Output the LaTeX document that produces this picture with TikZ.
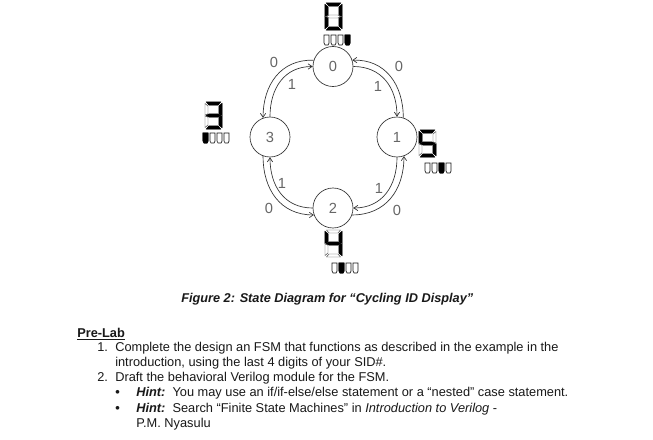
\documentclass[tikz,border=0pt]{standalone}
\usepackage{fontspec}
\setmainfont{Liberation Sans}
\usetikzlibrary{arrows.meta}
\tikzset{
  x=0.75pt,y=-0.75pt,
  state/.style={circle,draw=black!80,line width=0.5pt,minimum size=30pt,inner sep=0pt,font=\fontsize{11}{12}\selectfont,text=black!60},
  edgelab/.style={inner sep=0pt,font=\fontsize{11}{12}\selectfont,text=black!60},
  trans/.style={draw=black!80,line width=0.5pt,looseness=1.1,-{Straight Barb[length=3pt,width=4pt]}},
  txt/.style={inner sep=0pt,anchor=base west,font=\fontsize{9.6}{11}\selectfont,text=black!90},
  segA/.style={insert path={(1.5,0)--(15.5,0)--(13,3)--(4,3)--cycle}},
  segD/.style={insert path={(1.5,27)--(15.5,27)--(13,24)--(4,24)--cycle}},
  segF/.style={insert path={(0,1.5)--(3,4)--(3,11.8)--(0,13.2)--cycle}},
  segE/.style={insert path={(0,13.8)--(3,15.2)--(3,23)--(0,25.5)--cycle}},
  segB/.style={insert path={(17,1.5)--(14,4)--(14,11.8)--(17,13.2)--cycle}},
  segC/.style={insert path={(17,13.8)--(14,15.2)--(14,23)--(17,25.5)--cycle}},
  segG/.style={insert path={(1.5,13.5)--(4,12)--(13,12)--(15.5,13.5)--(13,15)--(4,15)--cycle}},
  ledbox/.style={insert path={(0,0)--(5,0)--(5,8)--(4,10)--(1,10)--(0,8)--cycle}},
}
% seven-segment display: x, y, list of lit segments
\newcommand\sevenseg[3]{%
  \begin{scope}[shift={(#1,#2)}]
    \foreach \s in {A,B,C,D,E,F,G} \draw[black!70,line width=0.35pt,seg\s];
    \foreach \s in {#3} \filldraw[black,line width=0.5pt,seg\s];
  \end{scope}}
% row of four LEDs: x, y, index of the lit one
\newcommand\ledrow[3]{%
  \begin{scope}[shift={(#1,#2)}]
    \foreach \i in {0,1,2,3}
      \draw[black!90,line width=0.5pt,shift={(\i*7,0)},ledbox];
    \filldraw[black,line width=0.5pt,shift={(#3*7,0)},ledbox];
  \end{scope}}
\begin{document}
\begin{tikzpicture}
\fill[white] (0,0) rectangle (653,439);
\useasboundingbox (0,0) rectangle (653,439);

\node[state] (s0) at (333,66.5) {0};
\node[state] (s1) at (397,137) {1};
\node[state] (s2) at (333,208) {2};
\node[state] (s3) at (270,137) {3};

\draw[trans] (s0.162) to[out=178,in=90] (s3.110);
\draw[trans] (s3.90)  to[out=90,in=180] (s0.180);
\draw[trans] (s1.72)  to[out=90,in=2] (s0.18);
\draw[trans] (s0.0)   to[out=0,in=90] (s1.90);
\draw[trans] (s3.250) to[out=-90,in=180] (s2.200);
\draw[trans] (s2.180) to[out=180,in=-90] (s3.270);
\draw[trans] (s1.270) to[out=-90,in=0] (s2.0);
\draw[trans] (s2.340) to[out=0,in=-90] (s1.290);

\node[edgelab] (l1) at (274,62) {0};
\node[edgelab] (l2) at (292,84) {1};
\node[edgelab] (l3) at (399,66) {0};
\node[edgelab] (l4) at (378,86) {1};
\node[edgelab] (l5) at (282,183) {1};
\node[edgelab] (l6) at (269,208) {0};
\node[edgelab] (l7) at (379,188) {1};
\node[edgelab] (l8) at (397,210) {0};

\sevenseg{325}{3}{A,B,C,D,E,F}
\sevenseg{205}{102}{A,B,C,D,G}
\sevenseg{419}{130}{A,C,D,F,G}
\sevenseg{325}{230}{B,C,F,G}

\ledrow{324}{35}{3}
\ledrow{203}{133}{0}
\ledrow{425}{163}{2}
\ledrow{332}{263}{1}

\node[txt,font=\fontsize{9.55}{11}\selectfont\bfseries\itshape] (cap) at (181,302) {Figure 2: State Diagram for “Cycling ID Display”};
\node[txt,font=\fontsize{9.6}{11}\selectfont\bfseries] (pre) at (77,337) {\underline{Pre-Lab}};
\node[txt] (n1) at (97,351) {1.};
\node[txt] (t1) at (115,351) {Complete the design an FSM that functions as described in the example in the};
\node[txt] (t1b) at (115,366) {introduction, using the last 4 digits of your SID\#.};
\node[txt] (n2) at (97,381) {2.};
\node[txt] (t2) at (115,381) {Draft the behavioral Verilog module for the FSM.};
\node[txt,font=\fontsize{9.6}{11}\selectfont\bfseries] (b1) at (115,396) {•};
\node[txt] (h1) at (136,396) {\textbf{\textit{Hint:}}\ \ You may use an if/if-else/else statement or a “nested” case statement.};
\node[txt,font=\fontsize{9.6}{11}\selectfont\bfseries] (b2) at (115,412) {•};
\node[txt] (h2) at (136,412) {\textbf{\textit{Hint:}}\ \ Search “Finite State Machines” in \textit{Introduction to Verilog} -};
\node[txt] (h2b) at (136,427) {P.M. Nyasulu};
\end{tikzpicture}
\end{document}
